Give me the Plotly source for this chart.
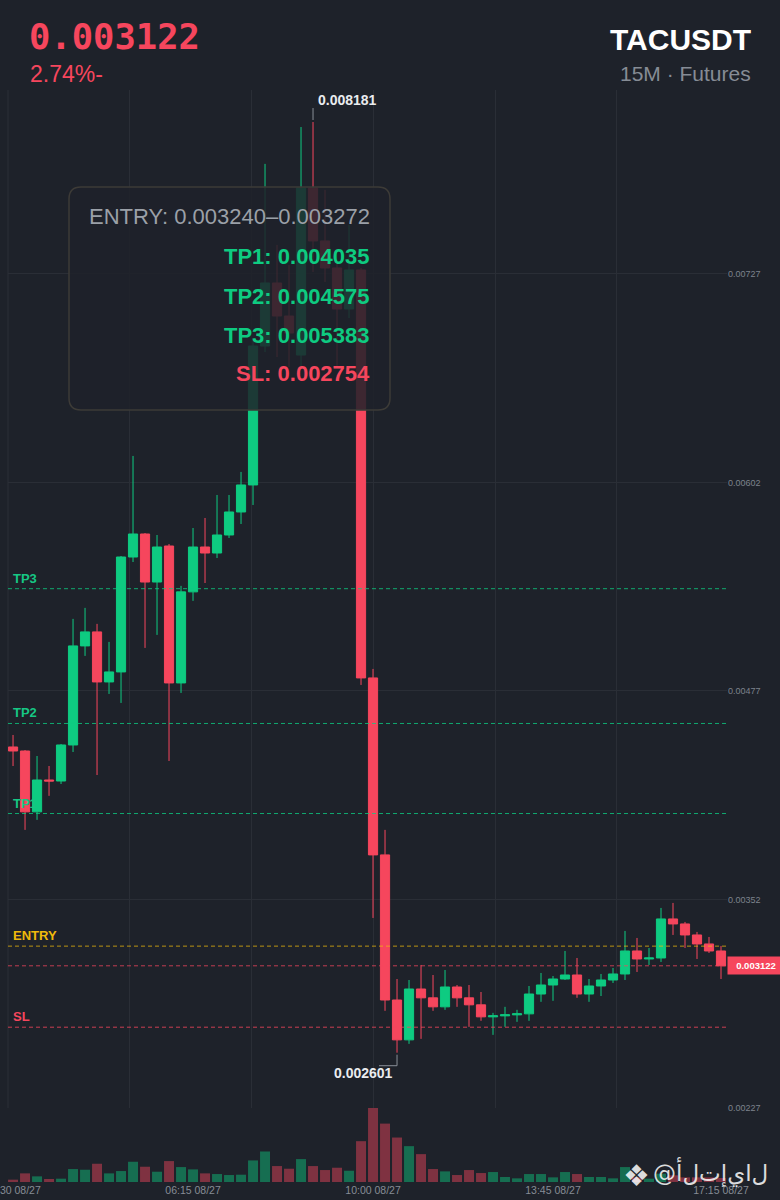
import plotly.graph_objects as go

# candle data, 15m, TACUSDT
opens = [0.004434, 0.004410, 0.004045, 0.004236, 0.004230, 0.004446, 0.005040, 0.005124, 0.004824, 0.004884,
         0.005573, 0.005711, 0.005423, 0.005639, 0.004818, 0.005364, 0.005633, 0.005597, 0.005705, 0.005843,
         0.006005, 0.006838, 0.007216, 0.007018, 0.006784, 0.007786, 0.007468, 0.007306, 0.007060, 0.007294,
         0.004848, 0.003787, 0.002917, 0.002678, 0.002983, 0.002930, 0.002876, 0.002995, 0.002930, 0.002888,
         0.002816, 0.002822, 0.002828, 0.002834, 0.002953, 0.003007, 0.003043, 0.003067, 0.002953, 0.003001,
         0.003037, 0.003073, 0.003211, 0.003163, 0.003169, 0.003403, 0.003373, 0.003307, 0.003253, 0.003211]
highs = [0.004506, 0.004416, 0.004380, 0.004320, 0.004452, 0.005202, 0.005268, 0.005172, 0.005064, 0.005579,
         0.006179, 0.005717, 0.005705, 0.005651, 0.005400, 0.005747, 0.005807, 0.005945, 0.005945, 0.006083,
         0.006874, 0.007930, 0.007444, 0.007324, 0.008151, 0.008181, 0.007774, 0.007342, 0.007564, 0.007306,
         0.004902, 0.003937, 0.003043, 0.003037, 0.003127, 0.003067, 0.003097, 0.003007, 0.003007, 0.002965,
         0.002840, 0.002876, 0.002858, 0.003001, 0.003079, 0.003061, 0.003211, 0.003169, 0.003043, 0.003073,
         0.003109, 0.003331, 0.003289, 0.003229, 0.003469, 0.003499, 0.003385, 0.003325, 0.003295, 0.003241]
lows = [0.004320, 0.003937, 0.003997, 0.004141, 0.004212, 0.004404, 0.004980, 0.004266, 0.004752, 0.004698,
        0.005543, 0.005028, 0.005106, 0.004350, 0.004758, 0.005310, 0.005417, 0.005567, 0.005687, 0.005771,
        0.005885, 0.006802, 0.006772, 0.006712, 0.006712, 0.007282, 0.007222, 0.006712, 0.007006, 0.004806,
        0.003409, 0.002852, 0.002601, 0.002654, 0.002684, 0.002852, 0.002858, 0.002876, 0.002756, 0.002792,
        0.002708, 0.002756, 0.002786, 0.002792, 0.002906, 0.002912, 0.003037, 0.002930, 0.002906, 0.002941,
        0.003019, 0.003037, 0.003085, 0.003127, 0.003145, 0.003307, 0.003229, 0.003163, 0.003199, 0.003043]
closes = [0.004410, 0.004045, 0.004236, 0.004230, 0.004446, 0.005040, 0.005124, 0.004824, 0.004884, 0.005573,
          0.005711, 0.005423, 0.005633, 0.004818, 0.005364, 0.005633, 0.005597, 0.005705, 0.005843, 0.006005,
          0.006838, 0.007216, 0.007018, 0.006916, 0.007786, 0.007468, 0.007306, 0.007060, 0.007294, 0.004848,
          0.003787, 0.002917, 0.002678, 0.002983, 0.002930, 0.002876, 0.002995, 0.002930, 0.002888, 0.002816,
          0.002822, 0.002828, 0.002834, 0.002953, 0.003007, 0.003043, 0.003067, 0.002953, 0.003001, 0.003037,
          0.003073, 0.003211, 0.003163, 0.003169, 0.003403, 0.003373, 0.003307, 0.003253, 0.003211, 0.003122]
volumes = [7, 26, 17, 9, 10, 39, 37, 55, 26, 33, 61, 46, 31, 63, 45, 38, 26, 24, 21, 22,
           65, 92, 48, 40, 69, 48, 36, 43, 34, 123, 223, 176, 134, 108, 84, 39, 32, 21, 36, 27,
           30, 15, 11, 24, 24, 14, 30, 24, 15, 15, 11, 45, 14, 10, 25, 20, 14, 14, 14, 12]

time_idx = [0, 15, 30, 45, 59]
time_labels = ["02:30 08/27", "06:15 08/27", "10:00 08/27", "13:45 08/27", "17:15 08/27"]

price_ticks = [0.00227, 0.00352, 0.00477, 0.00602, 0.00727]
price_labels = ["0.00227", "0.00352", "0.00477", "0.00602", "0.00727"]

entry_lo, entry_hi = 0.003240, 0.003272
tp1, tp2, tp3 = 0.004035, 0.004575, 0.005383
sl = 0.002754
last_price = closes[-1]

symbol = "TACUSDT"
subtitle = "15M · Futures"
change_text = "2.74%-"
# watermark drawn left-to-right with unjoined (isolated) letters, like the reference
watermark = "\u202d@\ufe83\ufedd\ufe95\ufe87\ufef1\ufe8d\ufedd\u202c"

BG = "#1e222a"
GRID = "#2a2e36"
GREEN = "#0ecb81"
RED = "#f6465d"
GOLD = "#f0b90b"
FONT = "Liberation Sans"

# plot area in pixels (for placing header / box text)
L, R, T, B = 8, 727, 90, 1182
W, H = R - L, B - T
VOL_FRAC = (B - 1108) / H


def px_x(px):
    return (px - L) / W


def px_y(py):
    return (B - py) / H


idx = list(range(len(closes)))
vol_colors = ["rgba(14,203,129,0.45)" if c >= o else "rgba(246,70,93,0.45)"
              for o, c in zip(opens, closes)]

fig = go.Figure()
fig.add_trace(go.Candlestick(
    x=idx, open=opens, high=highs, low=lows, close=closes,
    increasing=dict(line=dict(color=GREEN, width=1), fillcolor=GREEN),
    decreasing=dict(line=dict(color=RED, width=1), fillcolor=RED),
    whiskerwidth=0, showlegend=False, hoverinfo="skip",
    xaxis="x", yaxis="y",
))
fig.add_trace(go.Bar(
    x=idx, y=volumes, marker=dict(color=vol_colors, line=dict(width=0)),
    showlegend=False, hoverinfo="skip", xaxis="x2", yaxis="y2",
))

xr = [-0.42, 59.5]
grid_x = [9.73, 19.88, 30.03, 40.18, 50.33]

shapes = []
# left border of price pane
shapes.append(dict(type="line", xref="paper", yref="y domain", x0=0, x1=0, y0=0, y1=1,
                   line=dict(color=GRID, width=1), layer="below"))

levels = [
    (tp3, "TP3", "rgba(14,203,129,0.8)", "#16c784"),
    (tp2, "TP2", "rgba(14,203,129,0.8)", "#16c784"),
    (tp1, "TP1", "rgba(14,203,129,0.8)", "#16c784"),
    (entry_lo, "ENTRY", "rgba(240,185,11,0.75)", GOLD),
    (sl, "SL", "rgba(246,70,93,0.8)", RED),
]
annotations = []
for val, name, lc, tc in levels:
    shapes.append(dict(type="line", xref="paper", yref="y", x0=0, x1=1, y0=val, y1=val,
                       line=dict(color=lc, width=1, dash="4px,3px")))
    annotations.append(dict(xref="paper", yref="y", x=0, y=val, xshift=3, yshift=1,
                            xanchor="left", yanchor="bottom", showarrow=False,
                            text=f"<b>{name}</b>", font=dict(family=FONT, size=13, color=tc)))

# last price line
shapes.append(dict(type="line", xref="paper", yref="y", x0=0, x1=1, y0=last_price, y1=last_price,
                   line=dict(color="rgba(246,70,93,0.75)", width=1, dash="4px,3px")))
annotations.append(dict(xref="paper", yref="y", x=1, y=last_price, xanchor="left", yanchor="middle",
                        showarrow=False, text=f"<b>{last_price:.6f}</b>", bgcolor=RED, borderpad=3,
                        width=50, font=dict(family=FONT, size=9.5, color="white")))

# high / low markers
hi_i = highs.index(max(highs))
lo_i = lows.index(min(lows))
shapes.append(dict(type="line", xref="x", yref="y", x0=hi_i, x1=hi_i, ysizemode="pixel",
                   yanchor=highs[hi_i], y0=2, y1=14, line=dict(color="#8a8f98", width=1)))
shapes.append(dict(type="line", xref="x", yref="y", x0=lo_i, x1=lo_i, ysizemode="pixel",
                   yanchor=lows[lo_i], y0=-2, y1=-13, line=dict(color="#8a8f98", width=1)))
shapes.append(dict(type="line", xref="x", yref="y", xsizemode="pixel", xanchor=lo_i, x0=-18, x1=0,
                   ysizemode="pixel", yanchor=lows[lo_i], y0=-13, y1=-13,
                   line=dict(color="#8a8f98", width=1)))
annotations.append(dict(xref="x", yref="y", x=hi_i, y=highs[hi_i], xanchor="left", yanchor="bottom",
                        xshift=3, yshift=12, showarrow=False, text=f"<b>{highs[hi_i]:.6f}</b>",
                        font=dict(family=FONT, size=14, color="#eaecef")))
annotations.append(dict(xref="x", yref="y", x=lo_i, y=lows[lo_i], xanchor="right", yanchor="top",
                        xshift=-2, yshift=-10, showarrow=False, text=f"<b>{lows[lo_i]:.6f}</b>",
                        font=dict(family=FONT, size=14, color="#eaecef")))

# info box (rounded)
bx0, bx1, by0, by1 = px_x(69), px_x(390), px_y(410), px_y(187)
rx, ry = 12 / W, 12 / H
box_path = (f"M {bx0 + rx},{by1} L {bx1 - rx},{by1} Q {bx1},{by1} {bx1},{by1 - ry} "
            f"L {bx1},{by0 + ry} Q {bx1},{by0} {bx1 - rx},{by0} L {bx0 + rx},{by0} "
            f"Q {bx0},{by0} {bx0},{by0 + ry} L {bx0},{by1 - ry} Q {bx0},{by1} {bx0 + rx},{by1} Z")
shapes.append(dict(type="path", xref="paper", yref="paper", path=box_path,
                   fillcolor="rgba(30,34,42,0.86)", line=dict(color="#3d3b37", width=1.5)))

box_lines = [
    (f"ENTRY: {entry_lo:.6f}–{entry_hi:.6f}", "#9ba0a8", False, 216),
    (f"TP1: {tp1:.6f}", GREEN, True, 256),
    (f"TP2: {tp2:.6f}", GREEN, True, 296),
    (f"TP3: {tp3:.6f}", GREEN, True, 335),
    (f"SL: {sl:.6f}", RED, True, 374),
]
for txt, col, bold, py in box_lines:
    annotations.append(dict(xref="paper", yref="paper", x=px_x(372), y=px_y(py),
                            xanchor="right", yanchor="middle", showarrow=False,
                            text=f"<b>{txt}</b>" if bold else txt,
                            font=dict(family=FONT, size=22, color=col)))

# header
annotations += [
    dict(xref="paper", yref="paper", x=px_x(27), y=px_y(37), xanchor="left", yanchor="middle",
         showarrow=False, text=f"<b>{last_price:.6f}</b>",
         font=dict(family="DejaVu Sans Mono", size=35.5, color=RED)),
    dict(xref="paper", yref="paper", x=px_x(28), y=px_y(74), xanchor="left", yanchor="middle",
         showarrow=False, text=change_text, font=dict(family=FONT, size=23, color=RED)),
    dict(xref="paper", yref="paper", x=px_x(753), y=px_y(40), xanchor="right", yanchor="middle",
         showarrow=False, text=f"<b>{symbol}</b>", font=dict(family=FONT, size=30, color="#ffffff")),
    dict(xref="paper", yref="paper", x=px_x(753), y=px_y(73), xanchor="right", yanchor="middle",
         showarrow=False, text=subtitle, font=dict(family=FONT, size=21, color="#868c95")),
]

# watermark
annotations += [
    dict(xref="paper", yref="paper", x=px_x(636), y=px_y(1175), xanchor="center", yanchor="middle",
         showarrow=False, text="\u2756", font=dict(family="DejaVu Sans", size=30, color="rgba(255,255,255,0.85)")),
    dict(xref="paper", yref="paper", x=px_x(770), y=px_y(1172), xanchor="right", yanchor="middle",
         showarrow=False, text=watermark, font=dict(family="DejaVu Sans", size=23, color="rgba(255,255,255,0.85)")),
]

fig.update_layout(
    width=780, height=1200,
    margin=dict(l=L, r=780 - R, t=T, b=1200 - B, autoexpand=False),
    paper_bgcolor=BG, plot_bgcolor=BG,
    boxgap=0.15, boxgroupgap=0.1, bargap=0.17,
    shapes=shapes, annotations=annotations,
    xaxis=dict(domain=[0, 1], anchor="y", range=xr, tickvals=grid_x, showticklabels=False,
               showgrid=True, gridcolor=GRID, gridwidth=1, zeroline=False, ticks="",
               rangeslider=dict(visible=False)),
    xaxis2=dict(domain=[0, 1], anchor="y2", range=xr, tickvals=time_idx, ticktext=time_labels,
                showgrid=False, zeroline=False, ticks="", ticklabeloverflow="allow",
                tickfont=dict(family=FONT, size=10.5, color="#868c95")),
    yaxis=dict(domain=[VOL_FRAC, 1], anchor="x", side="right", range=[0.0022695, 0.008373],
               tickvals=price_ticks, ticktext=price_labels, showgrid=True, gridcolor=GRID,
               zeroline=False, ticks="", tickfont=dict(family=FONT, size=9, color="#7d838c")),
    yaxis2=dict(domain=[0, VOL_FRAC], anchor="x2", range=[0, max(volumes)], showgrid=False,
                showticklabels=False, zeroline=False),
)

fig.write_html("out.html", config={"displayModeBar": False},
               post_script="document.body.style.margin='0';")
